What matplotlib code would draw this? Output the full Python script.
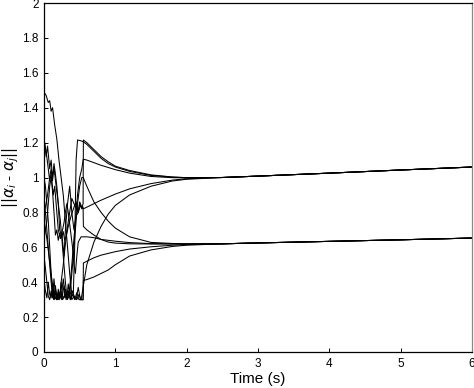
import numpy as np
import matplotlib
matplotlib.use('Agg')
import matplotlib.pyplot as plt

plt.rcParams['font.family'] = ['Liberation Sans', 'DejaVu Sans']

# long-run tails shared by each group (time, value)
tail_t = [2.5, 3.0, 4.0, 5.0, 6.0]
tail_hi = [1.0, 1.008, 1.025, 1.043, 1.06]
tail_lo = [0.62, 0.625, 0.634, 0.643, 0.653]

# each trajectory: (times, values), before the tail
c1_t = [0, 0.03, 0.06, 0.08, 0.1, 0.12, 0.15, 0.18, 0.21, 0.24, 0.27, 0.3, 0.33, 0.36, 0.39, 0.41, 0.43, 0.45, 0.47,
        0.52, 0.55, 0.6, 0.7, 0.8, 0.9, 1.0, 1.2, 1.5, 1.8, 2.0]
c1_y = [1.49, 1.47, 1.43, 1.44, 1.38, 1.40, 1.30, 1.22, 1.10, 1.0, 0.9, 0.75, 0.6, 0.45, 0.33, 0.32, 0.6, 1.1, 1.215,
        1.21, 1.205, 1.19, 1.15, 1.11, 1.08, 1.06, 1.035, 1.012, 1.002, 0.999]

c2_t = [0, 0.03, 0.06, 0.08, 0.1, 0.13, 0.15, 0.18, 0.2, 0.23, 0.25, 0.28, 0.3, 0.33, 0.36, 0.39, 0.42, 0.45, 0.48,
        0.5, 0.53, 0.548, 0.552, 0.6, 0.7, 0.8, 0.9, 1.0, 1.2, 1.5, 1.8, 2.0]
c2_y = [1.22, 1.15, 1.05, 0.98, 1.02, 0.9, 0.95, 0.8, 0.7, 0.65, 0.68, 0.55, 0.7, 0.85, 0.95, 0.8, 0.7, 0.78, 0.8,
        0.85, 0.82, 0.85, 1.215, 1.20, 1.16, 1.12, 1.09, 1.065, 1.04, 1.015, 1.003, 0.999]

c3_t = [0, 0.02, 0.04, 0.06, 0.08, 0.1, 0.12, 0.14, 0.16, 0.18, 0.2, 0.22, 0.24, 0.26, 0.28, 0.3, 0.32, 0.35, 0.38,
        0.41, 0.44, 0.47, 0.5, 0.53, 0.55, 0.6, 0.7, 0.8, 1.0, 1.2, 1.5, 1.8, 2.0]
c3_y = [1.0, 0.95, 0.85, 0.75, 0.6, 0.45, 0.35, 0.31, 0.38, 0.31, 0.34, 0.31, 0.4, 0.32, 0.31, 0.36, 0.31, 0.33, 0.45,
        0.6, 0.75, 0.9, 1.0, 1.05, 1.105, 1.10, 1.085, 1.07, 1.045, 1.025, 1.006, 0.999, 0.998]

c4_t = [0, 0.03, 0.05, 0.08, 0.1, 0.12, 0.14, 0.16, 0.18, 0.2, 0.22, 0.25, 0.27, 0.29, 0.31, 0.34, 0.38, 0.42, 0.45,
        0.48, 0.51, 0.55, 0.6, 0.7, 0.8, 1.0, 1.2, 1.5, 1.8, 2.0]
c4_y = [0.8, 0.85, 0.9, 1.0, 1.05, 0.98, 1.08, 1.02, 0.95, 0.85, 0.7, 0.66, 0.69, 0.64, 0.66, 0.72, 0.78, 0.83, 0.86,
        0.8, 0.84, 0.82, 0.83, 0.85, 0.87, 0.905, 0.935, 0.965, 0.985, 0.993]

c5_t = [0, 0.02, 0.05, 0.08, 0.1, 0.12, 0.14, 0.16, 0.19, 0.22, 0.25, 0.28, 0.31, 0.34, 0.37, 0.4, 0.43, 0.46, 0.49,
        0.52, 0.6, 0.7, 0.8, 0.9, 1.0, 1.2, 1.5, 1.8, 2.0]
c5_y = [0.9, 0.8, 0.65, 0.5, 0.4, 0.32, 0.3, 0.36, 0.3, 0.33, 0.3, 0.38, 0.3, 0.35, 0.3, 0.33, 0.3, 0.34, 0.3,
        0.3, 0.5, 0.63, 0.72, 0.79, 0.84, 0.9, 0.95, 0.98, 0.99]

c6_t = [0, 0.03, 0.05, 0.08, 0.1, 0.12, 0.14, 0.17, 0.2, 0.23, 0.26, 0.28, 0.3, 0.32, 0.35, 0.38, 0.41, 0.44, 0.47,
        0.5, 0.53, 0.55, 0.6, 0.7, 0.8, 0.9, 1.0, 1.2, 1.5, 1.8, 2.0]
c6_y = [1.22, 1.12, 1.18, 1.05, 1.1, 1.0, 1.06, 0.95, 0.85, 0.75, 0.6, 0.5, 0.4, 0.32, 0.31, 0.4, 0.55, 0.7, 0.85,
        0.95, 1.0, 1.0, 0.95, 0.86, 0.8, 0.75, 0.71, 0.66, 0.628, 0.622, 0.62]

c7_t = [0, 0.02, 0.04, 0.06, 0.08, 0.1, 0.12, 0.14, 0.16, 0.18, 0.2, 0.22, 0.24, 0.26, 0.28, 0.3, 0.32, 0.34, 0.37,
        0.4, 0.42, 0.44, 0.46, 0.48, 0.52, 0.55, 0.6, 0.7, 0.8, 1.0, 1.2, 1.5, 2.0]
c7_y = [0.65, 0.7, 0.75, 0.85, 0.95, 1.0, 0.92, 0.8, 0.67, 0.7, 0.64, 0.68, 0.66, 0.7, 0.74, 0.8, 0.85, 0.8, 0.7,
        0.6, 0.5, 0.45, 0.55, 0.63, 0.66, 0.66, 0.66, 0.655, 0.645, 0.635, 0.627, 0.621, 0.619]

c8_t = [0, 0.02, 0.04, 0.06, 0.08, 0.1, 0.12, 0.14, 0.16, 0.18, 0.2, 0.22, 0.24, 0.27, 0.3, 0.33, 0.36, 0.39, 0.42,
        0.45, 0.48, 0.5, 0.53, 0.548, 0.552, 0.6, 0.7, 0.8, 0.9, 1.0, 1.2, 1.5, 2.0]
c8_y = [0.55, 0.48, 0.4, 0.32, 0.3, 0.35, 0.31, 0.42, 0.33, 0.3, 0.36, 0.3, 0.4, 0.5, 0.62, 0.72, 0.8, 0.88, 0.85,
        0.83, 0.8, 0.86, 0.83, 0.83, 0.72, 0.70, 0.67, 0.645, 0.63, 0.624, 0.62, 0.619, 0.619]

c9_t = [0, 0.02, 0.04, 0.07, 0.1, 0.12, 0.14, 0.17, 0.2, 0.23, 0.26, 0.29, 0.32, 0.34, 0.37, 0.4, 0.43, 0.46, 0.49,
        0.52, 0.548, 0.552, 0.6, 0.7, 0.8, 1.0, 1.2, 1.5, 1.8, 2.0]
c9_y = [0.75, 0.7, 0.65, 0.55, 0.45, 0.38, 0.3, 0.32, 0.3, 0.35, 0.3, 0.32, 0.31, 0.39, 0.3, 0.35, 0.31, 0.3, 0.33,
        0.3, 0.3, 0.51, 0.52, 0.54, 0.555, 0.575, 0.59, 0.603, 0.612, 0.616]

c10_t = [0, 0.02, 0.04, 0.06, 0.08, 0.1, 0.12, 0.15, 0.18, 0.21, 0.24, 0.27, 0.3, 0.33, 0.36, 0.39, 0.42, 0.45, 0.48,
         0.51, 0.548, 0.552, 0.6, 0.7, 0.8, 0.9, 1.0, 1.2, 1.5, 1.8, 2.0]
c10_y = [0.42, 0.35, 0.31, 0.4, 0.33, 0.31, 0.38, 0.31, 0.3, 0.33, 0.31, 0.42, 0.32, 0.3, 0.36, 0.3, 0.32, 0.3, 0.37,
         0.3, 0.3, 0.41, 0.415, 0.43, 0.45, 0.47, 0.5, 0.55, 0.585, 0.605, 0.612]

upper = [(c1_t, c1_y), (c2_t, c2_y), (c3_t, c3_y), (c4_t, c4_y), (c5_t, c5_y)]
lower = [(c6_t, c6_y), (c7_t, c7_y), (c8_t, c8_y), (c9_t, c9_y), (c10_t, c10_y)]

x_ticks = [0, 1, 2, 3, 4, 5, 6]
y_ticks = [0, 0.2, 0.4, 0.6, 0.8, 1, 1.2, 1.4, 1.6, 1.8, 2]
y_labels = ['0', '0.2', '0.4', '0.6', '0.8', '1', '1.2', '1.4', '1.6', '1.8', '2']

fig = plt.figure(figsize=(4.74, 3.88), dpi=100)
ax = fig.add_axes([44 / 474, 36 / 388, 428 / 474, 349 / 388])

for group, tail in [(upper, tail_hi), (lower, tail_lo)]:
    for t, y in group:
        ax.plot(list(t) + tail_t, list(y) + tail, color='black', lw=0.75)

ax.set_xlim(0, 6)
ax.set_ylim(0, 2)
ax.set_xticks(x_ticks)
ax.set_yticks(y_ticks)
ax.set_yticklabels(y_labels)
ax.tick_params(direction='in', length=3, labelsize=8.5, width=0.7, pad=4)
for s in ax.spines.values():
    s.set_linewidth(0.9)
ax.spines['right'].set_color('#888888')

ax.set_xlabel('Time (s)', fontsize=11, labelpad=2)
ax.set_ylabel(r'$||\alpha_i$ - $\alpha_j||$', fontsize=11, labelpad=1)

fig.savefig('out.png', dpi=100)
